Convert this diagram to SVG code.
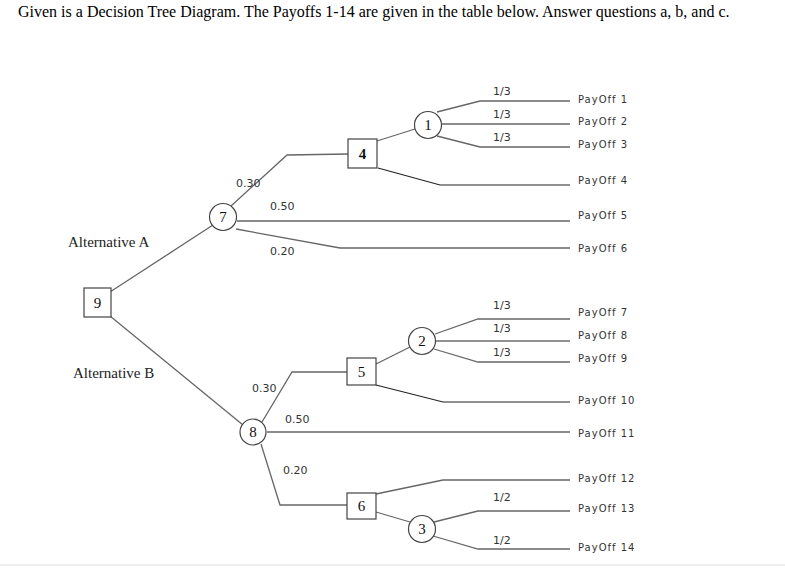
<svg xmlns="http://www.w3.org/2000/svg" width="785" height="568" viewBox="0 0 785 568">
<style>
.e{fill:none;stroke:#666;stroke-width:1.3}
.b{fill:none;stroke:#222;stroke-width:1.2}
.n{fill:#fff;stroke:#444;stroke-width:1.2}
.t{font-family:"Liberation Serif",serif;font-size:15px;fill:#111;text-anchor:middle}
.p{font-family:"DejaVu Sans",sans-serif;font-size:10px;fill:#333;letter-spacing:1px}
.l{font-family:"DejaVu Sans",sans-serif;font-size:11px;fill:#333}
.a{font-family:"Liberation Serif",serif;font-size:15px;fill:#222}
</style>
<rect width="785" height="568" fill="#fff"/>
<text x="18" y="17" font-family="Liberation Serif, serif" font-size="16" fill="#000">Given is a Decision Tree Diagram. The Payoffs 1-14 are given in the table below. Answer questions a, b, and c.</text>
<line x1="0" y1="565" x2="785" y2="565" stroke="#ddd"/>
<g id="connectors">
<polyline class="e" points="110,292 213,225"/>
<polyline class="e" points="110,316 243,425"/>
<polyline class="e" points="231,206 287,155 348,154"/>
<polyline class="e" points="237,221 570,221"/>
<polyline class="e" points="236,229 340,248 570,248"/>
<polyline class="e" points="377,141 415,129"/>
<polyline class="e" points="437,112 480,101 570,101"/>
<polyline class="e" points="442,124 570,124"/>
<polyline class="e" points="437,136 480,147 570,147"/>
<polyline class="b" points="378,168 440,185 570,185"/>
<polyline class="e" points="262,422 292,372 347,372"/>
<polyline class="e" points="267,432 570,432"/>
<polyline class="e" points="261,444 280,505 347,505"/>
<polyline class="e" points="376,364 410,347"/>
<polyline class="e" points="435,334 478,319 570,319"/>
<polyline class="b" points="436,341 570,341"/>
<polyline class="e" points="434,349 478,362 570,362"/>
<polyline class="b" points="376,385 443,402 570,402"/>
<polyline class="e" points="376,494 443,480 570,480"/>
<polyline class="e" points="376,512 410,522"/>
<polyline class="e" points="434,522 478,511 570,511"/>
<polyline class="e" points="433,536 478,549 570,549"/>
</g>
<g id="labels">
<text class="a" x="68" y="247">Alternative A</text>
<text class="a" x="73" y="378">Alternative B</text>
<text class="l" x="236" y="187">0.30</text>
<text class="l" x="270" y="210">0.50</text>
<text class="l" x="270" y="255">0.20</text>
<text class="l" x="252" y="392">0.30</text>
<text class="l" x="285" y="423">0.50</text>
<text class="l" x="283" y="474">0.20</text>
<text class="l" x="493" y="95">1/3</text>
<text class="l" x="493" y="118">1/3</text>
<text class="l" x="493" y="141">1/3</text>
<text class="l" x="493" y="309">1/3</text>
<text class="l" x="493" y="332">1/3</text>
<text class="l" x="493" y="356">1/3</text>
<text class="l" x="493" y="501">1/2</text>
<text class="l" x="493" y="544">1/2</text>
<text class="p" x="578" y="103">PayOff 1</text>
<text class="p" x="578" y="125">PayOff 2</text>
<text class="p" x="578" y="148">PayOff 3</text>
<text class="p" x="578" y="184">PayOff 4</text>
<text class="p" x="578" y="219">PayOff 5</text>
<text class="p" x="578" y="252">PayOff 6</text>
<text class="p" x="578" y="316">PayOff 7</text>
<text class="p" x="578" y="339">PayOff 8</text>
<text class="p" x="578" y="362">PayOff 9</text>
<text class="p" x="578" y="404">PayOff 10</text>
<text class="p" x="578" y="437">PayOff 11</text>
<text class="p" x="578" y="482">PayOff 12</text>
<text class="p" x="578" y="512">PayOff 13</text>
<text class="p" x="578" y="551">PayOff 14</text>
</g>
<g id="node9"><rect class="n" x="84" y="288" width="27" height="29"/><text class="t" x="97.5" y="308">9</text></g>
<g id="node7"><circle class="n" cx="223" cy="217" r="13.5"/><text class="t" x="223" y="222">7</text></g>
<g id="node4"><rect class="n" x="348" y="139" width="29" height="29"/><text class="t" x="362.5" y="159" font-weight="bold">4</text></g>
<g id="node1"><circle class="n" cx="428" cy="125" r="13.5"/><text class="t" x="428" y="130">1</text></g>
<g id="node8"><circle class="n" cx="253" cy="432" r="13"/><text class="t" x="253" y="437">8</text></g>
<g id="node5"><rect class="n" x="347" y="358" width="29" height="27"/><text class="t" x="361.5" y="377">5</text></g>
<g id="node2"><circle class="n" cx="422" cy="341" r="13.5"/><text class="t" x="422" y="346">2</text></g>
<g id="node6"><rect class="n" x="347" y="493" width="29" height="26"/><text class="t" x="361.5" y="511">6</text></g>
<g id="node3"><circle class="n" cx="422" cy="529" r="13.5"/><text class="t" x="422" y="534">3</text></g>
</svg>
